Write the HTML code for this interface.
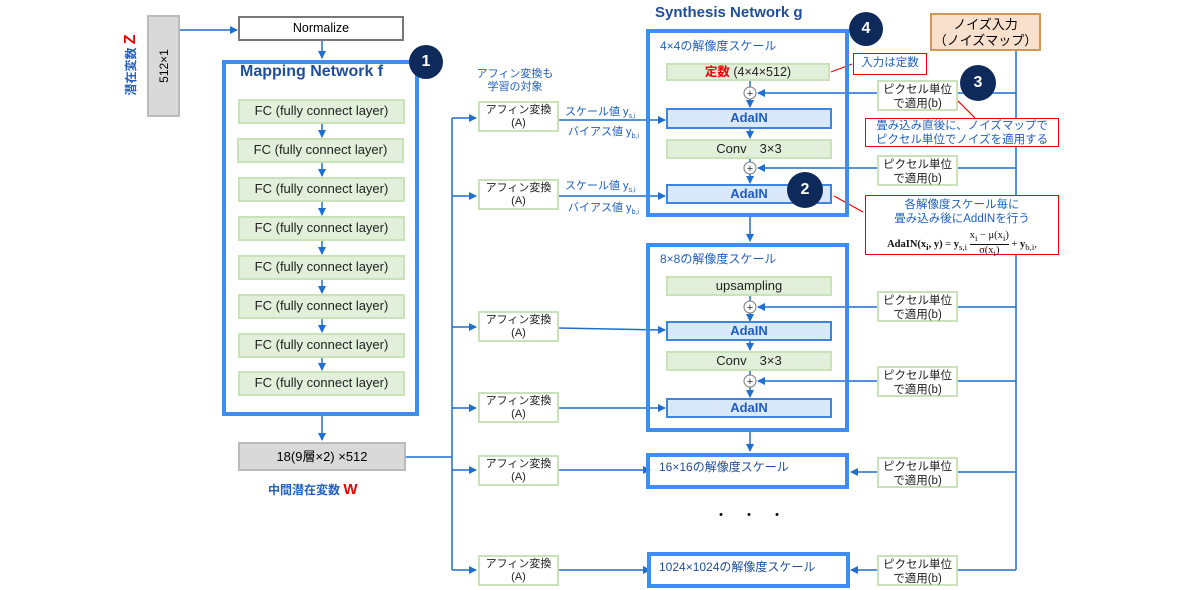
<!DOCTYPE html>
<html><head><meta charset="utf-8"><style>
body{margin:0;width:1201px;height:590px;background:#fff;position:relative;overflow:hidden;font-family:"Liberation Sans","Noto Sans CJK JP",sans-serif;}
.a{position:absolute;box-sizing:border-box;}
.fc{background:#e2efda;border:2px solid #c9e2b8;font-size:13px;color:#222;text-align:center;line-height:20px;}
.ada{background:#dae8fc;border:2px solid #3d85e0;color:#1f5cc0;font-weight:bold;font-size:13px;text-align:center;line-height:16px;}
.aff{background:#fff;border:2px solid #c9e2b8;font-size:11px;text-align:center;line-height:13px;color:#222;padding-top:1px;}
.px{background:#fff;border:2px solid #c9e2b8;font-size:11.5px;text-align:center;line-height:14px;color:#222;padding-top:1px;}
.sb{border:4px solid #3d8ef0;}
.cir{border-radius:50%;background:#0e2a5a;color:#fff;font-weight:bold;text-align:center;}
.red{border:1.5px solid #e00;background:#fff;color:#2060c0;font-size:11.5px;text-align:center;line-height:14px;}
.lab{color:#2060c0;font-size:11px;}
</style></head><body>
<svg class="a" style="left:0;top:0" width="1201" height="590">
<defs><marker id="m" markerWidth="8" markerHeight="8" refX="7" refY="4" orient="auto" markerUnits="userSpaceOnUse"><path d="M0,0 L8,4 L0,8z" fill="#1f6fd0"/></marker></defs>
<g stroke="#1f6fd0" stroke-width="1.5" fill="none">
<line x1="180" y1="30" x2="237" y2="30" marker-end="url(#m)"/>
<line x1="322" y1="40" x2="322" y2="58" marker-end="url(#m)"/>
<line x1="322" y1="124" x2="322" y2="137" marker-end="url(#m)"/>
<line x1="322" y1="163" x2="322" y2="176" marker-end="url(#m)"/>
<line x1="322" y1="202" x2="322" y2="215" marker-end="url(#m)"/>
<line x1="322" y1="241" x2="322" y2="254" marker-end="url(#m)"/>
<line x1="322" y1="280" x2="322" y2="293" marker-end="url(#m)"/>
<line x1="322" y1="319" x2="322" y2="332" marker-end="url(#m)"/>
<line x1="322" y1="358" x2="322" y2="370" marker-end="url(#m)"/>
<line x1="322" y1="416" x2="322" y2="440" marker-end="url(#m)"/>
<line x1="406" y1="457" x2="452" y2="457"/>
<line x1="452" y1="118" x2="452" y2="570"/>
<line x1="452" y1="118" x2="476" y2="118" marker-end="url(#m)"/>
<line x1="452" y1="196" x2="476" y2="196" marker-end="url(#m)"/>
<line x1="452" y1="327" x2="476" y2="327" marker-end="url(#m)"/>
<line x1="452" y1="408" x2="476" y2="408" marker-end="url(#m)"/>
<line x1="452" y1="470" x2="476" y2="470" marker-end="url(#m)"/>
<line x1="452" y1="570" x2="476" y2="570" marker-end="url(#m)"/>
<line x1="558" y1="120" x2="665" y2="120" marker-end="url(#m)"/>
<line x1="558" y1="196" x2="665" y2="196" marker-end="url(#m)"/>
<line x1="558" y1="328" x2="665" y2="330" marker-end="url(#m)"/>
<line x1="558" y1="408" x2="665" y2="408" marker-end="url(#m)"/>
<line x1="558" y1="470" x2="650" y2="470" marker-end="url(#m)"/>
<line x1="558" y1="570" x2="650" y2="570" marker-end="url(#m)"/>
<line x1="750" y1="80" x2="750" y2="87"/>
<line x1="750" y1="99" x2="750" y2="107" marker-end="url(#m)"/>
<line x1="750" y1="128" x2="750" y2="138" marker-end="url(#m)"/>
<line x1="750" y1="158" x2="750" y2="162"/>
<line x1="750" y1="174" x2="750" y2="183" marker-end="url(#m)"/>
<line x1="750" y1="217" x2="750" y2="241" marker-end="url(#m)"/>
<line x1="750" y1="295" x2="750" y2="301"/>
<line x1="750" y1="313" x2="750" y2="321" marker-end="url(#m)"/>
<line x1="750" y1="341" x2="750" y2="350" marker-end="url(#m)"/>
<line x1="750" y1="370" x2="750" y2="375"/>
<line x1="750" y1="387" x2="750" y2="397" marker-end="url(#m)"/>
<line x1="750" y1="432" x2="750" y2="451" marker-end="url(#m)"/>
<line x1="1016" y1="50" x2="1016" y2="570"/>
<line x1="1016" y1="93" x2="957" y2="93"/><line x1="877" y1="93" x2="758" y2="93" marker-end="url(#m)"/>
<line x1="1016" y1="168" x2="957" y2="168"/><line x1="877" y1="168" x2="758" y2="168" marker-end="url(#m)"/>
<line x1="1016" y1="307" x2="957" y2="307"/><line x1="877" y1="307" x2="758" y2="307" marker-end="url(#m)"/>
<line x1="1016" y1="381" x2="957" y2="381"/><line x1="877" y1="381" x2="758" y2="381" marker-end="url(#m)"/>
<line x1="1016" y1="472" x2="957" y2="472"/><line x1="877" y1="472" x2="851" y2="472" marker-end="url(#m)"/>
<line x1="1016" y1="570" x2="957" y2="570"/><line x1="877" y1="570" x2="851" y2="570" marker-end="url(#m)"/>
</g>
<g stroke="#e00" stroke-width="1.2">
<line x1="831" y1="72" x2="852" y2="64"/>
<line x1="955" y1="98" x2="975" y2="118"/>
<line x1="834" y1="196" x2="863" y2="212"/>
</g>
<g fill="#fff" stroke="#777" stroke-width="1">
<circle cx="750" cy="93" r="6"/><circle cx="750" cy="168" r="6"/><circle cx="750" cy="307" r="6"/><circle cx="750" cy="381" r="6"/>
</g>
<g font-size="11" text-anchor="middle" fill="#333" font-family="Liberation Sans">
<text x="750" y="97">+</text><text x="750" y="172">+</text><text x="750" y="311">+</text><text x="750" y="385">+</text>
</g>
</svg>

<div class="a" style="left:80px;top:56px;width:100px;height:20px;line-height:20px;text-align:center;font-size:12px;font-weight:bold;color:#2060c0;transform:rotate(-90deg);transform-origin:50px 10px;left:81px;top:55px;white-space:nowrap;">潜在変数 <span style="color:#e00;font-size:16px;">Z</span></div>
<div class="a" style="left:147px;top:15px;width:33px;height:102px;background:#d9d9d9;border:2px solid #bbb;"><div style="position:absolute;left:-20px;top:42px;width:70px;text-align:center;font-size:12px;transform:rotate(-90deg);">512×1</div></div>
<div class="a" style="left:238px;top:16px;width:166px;height:25px;border:2px solid #777;font-size:12.5px;text-align:center;line-height:21px;">Normalize</div>
<div class="a sb" style="left:222px;top:60px;width:197px;height:356px;"></div>
<div class="a" style="left:240px;top:63px;font-size:16px;font-weight:bold;color:#1f4e9a;">Mapping Network f</div>
<div class="a cir" style="left:409px;top:45px;width:34px;height:34px;line-height:34px;font-size:16px;">1</div>
<div class="a fc" style="left:238px;top:99px;width:167px;height:25px;">FC (fully  connect layer)</div>
<div class="a fc" style="left:237px;top:138px;width:167px;height:25px;">FC (fully  connect layer)</div>
<div class="a fc" style="left:238px;top:177px;width:167px;height:25px;">FC (fully  connect layer)</div>
<div class="a fc" style="left:238px;top:216px;width:167px;height:25px;">FC (fully  connect layer)</div>
<div class="a fc" style="left:238px;top:255px;width:167px;height:25px;">FC (fully  connect layer)</div>
<div class="a fc" style="left:238px;top:294px;width:167px;height:25px;">FC (fully  connect layer)</div>
<div class="a fc" style="left:238px;top:333px;width:167px;height:25px;">FC (fully  connect layer)</div>
<div class="a fc" style="left:238px;top:371px;width:167px;height:25px;">FC (fully  connect layer)</div>
<div class="a" style="left:238px;top:442px;width:168px;height:29px;background:#d9d9d9;border:2px solid #bbb;font-size:13px;text-align:center;line-height:25px;">18(9層×2)  ×512</div>
<div class="a" style="left:268px;top:481px;font-size:12px;font-weight:bold;color:#2060c0;">中間潜在変数 <span style="color:#e00;font-size:15px;">W</span></div>

<div class="a lab" style="left:470px;top:68px;width:90px;text-align:center;line-height:13px;">アフィン変換も<br>学習の対象</div>
<div class="a aff" style="left:478px;top:101px;width:81px;height:31px;">アフィン変換<br>(A)</div>
<div class="a aff" style="left:478px;top:179px;width:81px;height:31px;">アフィン変換<br>(A)</div>
<div class="a aff" style="left:478px;top:311px;width:81px;height:31px;">アフィン変換<br>(A)</div>
<div class="a aff" style="left:478px;top:392px;width:81px;height:31px;">アフィン変換<br>(A)</div>
<div class="a aff" style="left:478px;top:455px;width:81px;height:31px;">アフィン変換<br>(A)</div>
<div class="a aff" style="left:478px;top:555px;width:81px;height:31px;">アフィン変換<br>(A)</div>
<div class="a lab" style="left:565px;top:103px;">スケール値 y<sub style="font-size:7px">s,i</sub></div>
<div class="a lab" style="left:568px;top:123px;">バイアス値 y<sub style="font-size:7px">b,i</sub></div>
<div class="a lab" style="left:565px;top:177px;">スケール値 y<sub style="font-size:7px">s,i</sub></div>
<div class="a lab" style="left:568px;top:199px;">バイアス値 y<sub style="font-size:7px">b,i</sub></div>

<div class="a" style="left:655px;top:4px;font-size:15px;font-weight:bold;color:#1f4e9a;">Synthesis Network g</div>
<div class="a sb" style="left:646px;top:29px;width:203px;height:188px;"></div>
<div class="a cir" style="left:849px;top:12px;width:34px;height:34px;line-height:34px;font-size:16px;">4</div>
<div class="a lab" style="left:660px;top:37px;font-size:12px;">4×4の解像度スケール</div>
<div class="a fc" style="left:666px;top:63px;width:164px;height:18px;line-height:14px;font-size:12.5px;"><b style="color:#e00">定数</b> (4×4×512)</div>
<div class="a ada" style="left:666px;top:108px;width:166px;height:21px;">AdaIN</div>
<div class="a fc" style="left:666px;top:139px;width:166px;height:20px;line-height:16px;">Conv　3×3</div>
<div class="a ada" style="left:666px;top:184px;width:166px;height:20px;">AdaIN</div>
<div class="a cir" style="left:787px;top:172px;width:36px;height:36px;line-height:36px;font-size:16px;">2</div>

<div class="a sb" style="left:646px;top:243px;width:203px;height:189px;"></div>
<div class="a lab" style="left:660px;top:250px;font-size:12px;">8×8の解像度スケール</div>
<div class="a fc" style="left:666px;top:276px;width:166px;height:20px;line-height:16px;">upsampling</div>
<div class="a ada" style="left:666px;top:321px;width:166px;height:20px;">AdaIN</div>
<div class="a fc" style="left:666px;top:351px;width:166px;height:20px;line-height:16px;">Conv　3×3</div>
<div class="a ada" style="left:666px;top:398px;width:166px;height:20px;">AdaIN</div>

<div class="a sb" style="left:646px;top:453px;width:203px;height:36px;"></div>
<div class="a" style="left:659px;top:458px;font-size:12px;color:#1f4e9a;">16×16の解像度スケール</div>
<div class="a sb" style="left:647px;top:552px;width:203px;height:36px;"></div>
<div class="a" style="left:659px;top:558px;font-size:12px;color:#1f4e9a;">1024×1024の解像度スケール</div>
<div class="a" style="left:714px;top:505px;font-size:14px;letter-spacing:14px;">・・・</div>

<div class="a" style="left:930px;top:13px;width:111px;height:38px;background:#f8e0cc;border:2px solid #d4955a;font-size:13px;text-align:center;line-height:16px;padding-top:2px;">ノイズ入力<br>（ノイズマップ）</div>
<div class="a px" style="left:877px;top:80px;width:81px;height:31px;">ピクセル単位<br>で適用(b)</div>
<div class="a px" style="left:877px;top:155px;width:81px;height:31px;">ピクセル単位<br>で適用(b)</div>
<div class="a px" style="left:877px;top:291px;width:81px;height:31px;">ピクセル単位<br>で適用(b)</div>
<div class="a px" style="left:877px;top:366px;width:81px;height:31px;">ピクセル単位<br>で適用(b)</div>
<div class="a px" style="left:877px;top:457px;width:81px;height:31px;">ピクセル単位<br>で適用(b)</div>
<div class="a px" style="left:877px;top:555px;width:81px;height:31px;">ピクセル単位<br>で適用(b)</div>
<div class="a cir" style="left:960px;top:65px;width:36px;height:36px;line-height:36px;font-size:16px;">3</div>
<div class="a red" style="left:853px;top:53px;width:74px;height:22px;line-height:19px;">入力は定数</div>
<div class="a red" style="left:865px;top:118px;width:194px;height:29px;">畳み込み直後に、ノイズマップで<br>ピクセル単位でノイズを適用する</div>
<div class="a red" style="left:865px;top:195px;width:194px;height:60px;padding-top:2px;">各解像度スケール毎に<br>畳み込み後にAddINを行う
<div style="color:#111;font-family:'Liberation Serif',serif;font-size:10.5px;margin-top:4px;white-space:nowrap;"><b>AdaIN(x<sub>i</sub>, y)</b> = <b>y</b><sub>s,i</sub> <span style="display:inline-block;vertical-align:middle;text-align:center;line-height:11px;"><span style="border-bottom:1px solid #111;display:block;">x<sub>i</sub> − μ(x<sub>i</sub>)</span>σ(x<sub>i</sub>)</span> + <b>y</b><sub>b,i</sub>,</div></div>
</body></html>
